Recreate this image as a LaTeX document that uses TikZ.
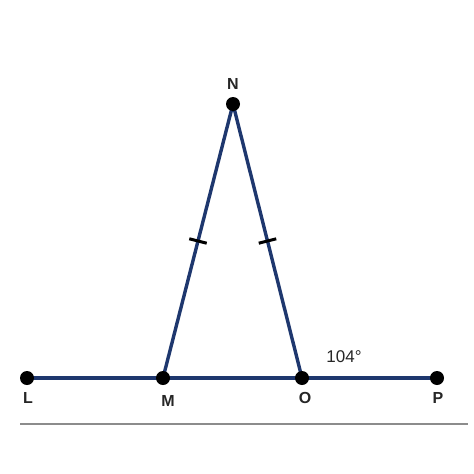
\documentclass[tikz,border=0pt]{standalone}
\usepackage{fontspec}
\setmainfont{Liberation Sans}
\usetikzlibrary{calc}
\begin{document}
\begin{tikzpicture}[x=1pt,y=-1pt,
  seg/.style={draw={rgb,255:red,30;green,55;blue,110}, line width=3.4pt},
  dot/.style={circle, fill=black, inner sep=0pt, minimum size=14pt},
  lbl/.style={font=\fontsize{16}{16}\selectfont\bfseries, text=black!85},
  tick/.style={draw=black, line width=3pt}]
\useasboundingbox (0,0) rectangle (474,474);
\fill[white] (0,0) rectangle (474,474);
\coordinate (L) at (27,378);
\coordinate (M) at (163,378);
\coordinate (O) at (302,378);
\coordinate (P) at (437,378);
\coordinate (N) at (233,104);
\draw[seg] (L) -- (P);
\draw[seg] (M) -- (N) -- (O);
% tick marks
\draw[tick] ($(M)!0.5!(N)!9pt!90:(N)$) -- ($(M)!0.5!(N)!9pt!-90:(N)$);
\draw[tick] ($(O)!0.5!(N)!9pt!90:(N)$) -- ($(O)!0.5!(N)!9pt!-90:(N)$);
\node[dot] (dL) at (L) {};
\node[dot] (dM) at (M) {};
\node[dot] (dO) at (O) {};
\node[dot] (dP) at (P) {};
\node[dot] (dN) at (N) {};
\node[lbl] (tN) at (233,84) {N};
\node[lbl] (tL) at (28,398) {L};
\node[lbl] (tM) at (168,401) {M};
\node[lbl] (tO) at (305,398) {O};
\node[lbl] (tP) at (438,398) {P};
\node[font=\fontsize{17}{17}\selectfont, text=black!85] (ang) at (344,357) {104°};
\draw[black!45, line width=1.5pt] (20,424) -- (468,424);
\end{tikzpicture}
\end{document}
